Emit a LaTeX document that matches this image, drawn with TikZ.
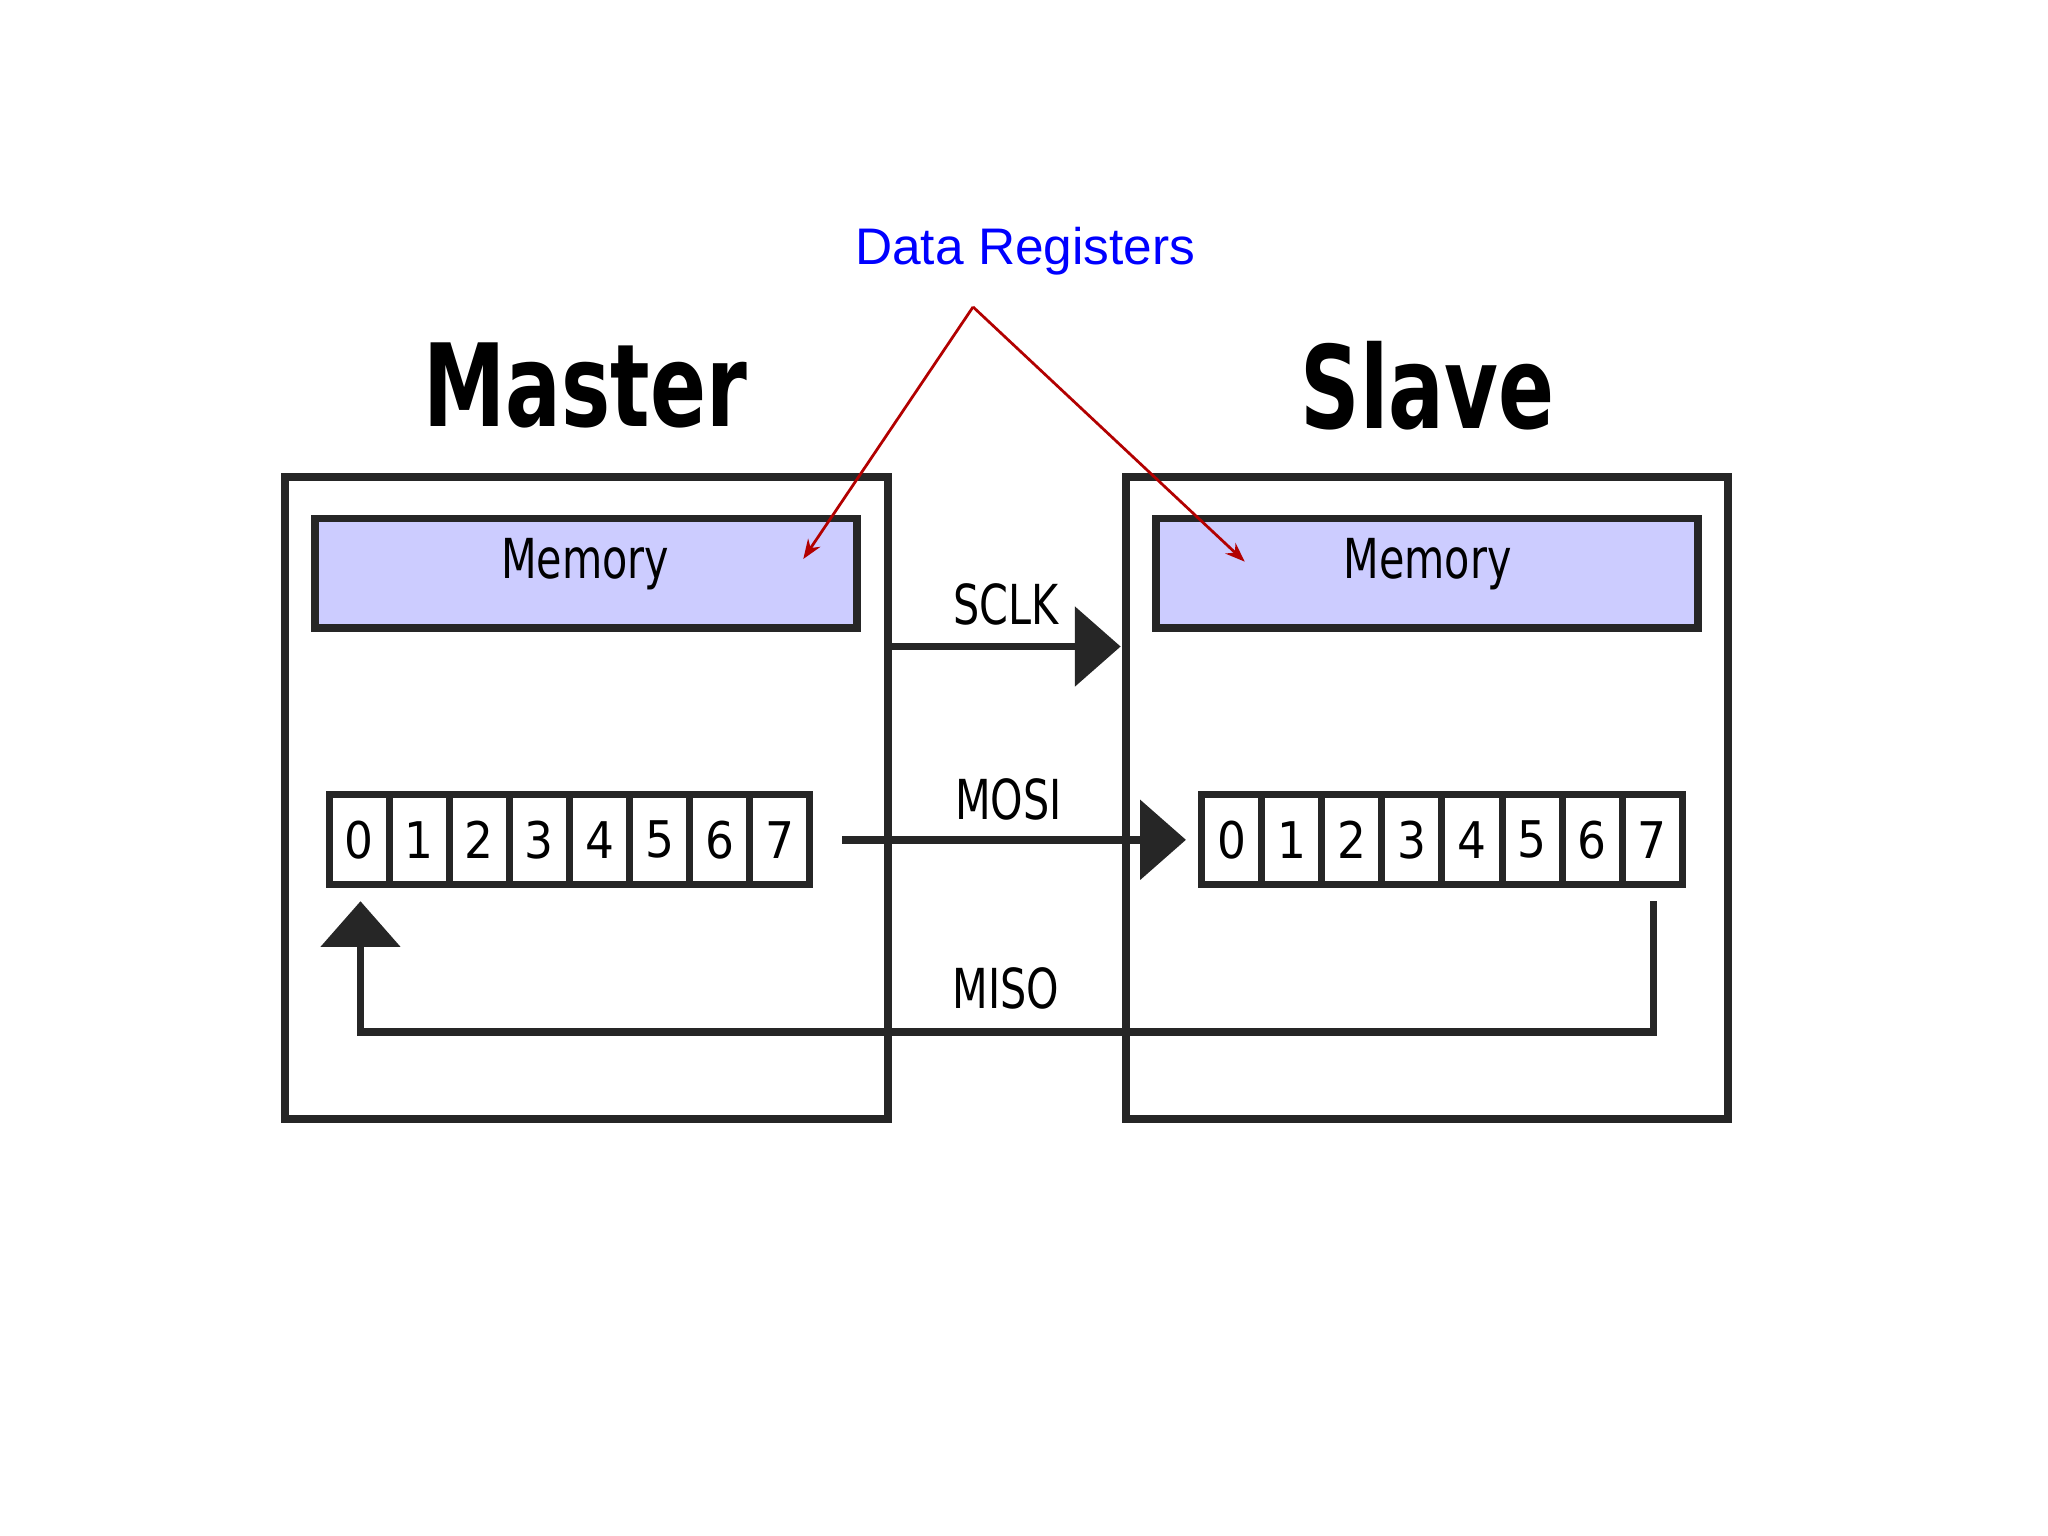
\documentclass[tikz,border=0pt]{standalone}
\usepackage{fontspec}
\setmainfont{DejaVu Sans}
\newfontfamily\lib{Liberation Sans}
\newfontfamily\cond{DejaVu Sans Condensed}
\usetikzlibrary{arrows.meta}
\begin{document}
\begin{tikzpicture}[x=0.01cm,y=-0.01cm,
  box/.style={draw=black!85,line width=1.7pt},
  mem/.style={draw=black!85,line width=1.7pt,fill=blue!20},
  cell/.style={draw=black!85,line width=1.5pt,minimum width=0.46cm,minimum height=0.69cm,inner sep=0pt,font=\cond\fontsize{11}{11}\selectfont},
  lbl/.style={font=\cond\fontsize{10}{12}\selectfont,yscale=1.2},
  big/.style={-{Triangle[length=0.35cm,width=0.6cm]},line width=1.7pt,draw=black!85},
  red/.style={draw=red!70!black,line width=0.6pt,-{Stealth[length=0.15cm]}}]
\useasboundingbox (0,0) rectangle (1568,1176);
\node[font=\lib\fontsize{11.2}{13}\selectfont,text=blue] (dr) at (785,192) {Data Registers};
\coordinate (apex) at (745,235);
\node[font=\cond\bfseries\fontsize{20}{24}\selectfont,yscale=1.25] (mt) at (448,295) {Master};
\node[font=\cond\bfseries\fontsize{20}{24}\selectfont,yscale=1.25] (st) at (1093,295) {Slave};
\draw[box] (218,365) rectangle (680,857);
\draw[box] (862,365) rectangle (1323,857);
\draw[mem] (241,397) rectangle (656,481);
\draw[mem] (885,397) rectangle (1300,481);
\node[lbl] (m1) at (448,432) {Memory};
\node[lbl] (m2) at (1093,432) {Memory};
\foreach \i in {0,...,7}{
  \node[cell] (a\i) at ({275+46*\i},643) {\i};
  \node[cell] (b\i) at ({943+46*\i},643) {\i};
}
\coordinate (s1) at (680,495); \coordinate (s2) at (858,495);
\draw[big] (s1) -- (s2);
\node[lbl] (sclk) at (770,463) {SCLK};
\coordinate (o1) at (645,643); \coordinate (o2) at (908,643);
\draw[big] (o1) -- (o2);
\node[lbl] (mosi) at (772,612) {MOSI};
\coordinate (i1) at (1266,690); \coordinate (i2) at (276,690);
\draw[big] (i1) -- (1266,790) -- (276,790) -- (i2);
\node[lbl] (miso) at (770,757) {MISO};
\coordinate (r1) at (615,428); \coordinate (r2) at (953,430);
\draw[red] (apex) -- (r1);
\draw[red] (apex) -- (r2);
\end{tikzpicture}
\end{document}
